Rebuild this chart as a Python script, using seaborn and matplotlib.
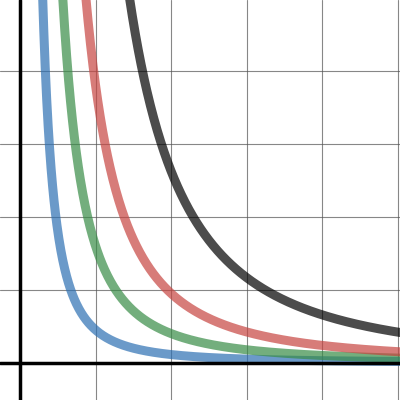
import numpy as np
import pandas as pd
import seaborn as sns
import matplotlib.pyplot as plt

# y = a / x^2, coefficients
coefs = [0.45, 1.6, 3.8, 10.5]
names = ["blue", "green", "red", "black"]
colors = ["#2d70b3", "#388c46", "#c74440", "#000000"]

sns.set_style("white")
fig = plt.figure(figsize=(4, 4), dpi=100)
ax = fig.add_axes([0, 0, 1, 1])

x = np.linspace(0.05, 5.2, 800)
frames = []
for name, a in zip(names, coefs):
    frames.append(pd.DataFrame({"x": x, "y": a / x**2, "curve": name}))
df = pd.concat(frames)

sns.lineplot(data=df, x="x", y="y", hue="curve", palette=colors,
             linewidth=6.5, alpha=0.7, legend=False, ax=ax, sort=False,
             solid_capstyle="butt")

for gx in range(1, 6):
    ax.axvline(gx, color="#555555", lw=0.8, alpha=0.7, zorder=0)
for gy in range(1, 6):
    ax.axhline(gy, color="#555555", lw=0.8, alpha=0.7, zorder=0)
ax.axvline(0, color="black", lw=2.5, zorder=5)
ax.axhline(0, color="black", lw=2.5, zorder=5)

ax.set_xlim(-0.265, 5.03)
ax.set_ylim(-0.51, 4.97)
ax.set_xticks([])
ax.set_yticks([])
ax.set_xlabel("")
ax.set_ylabel("")
for s in ax.spines.values():
    s.set_visible(False)

plt.savefig("out.png", dpi=100)
plt.close()
